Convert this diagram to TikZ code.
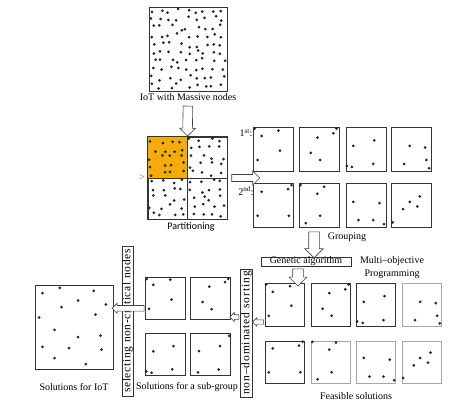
\documentclass[tikz,border=0pt]{standalone}
\usepackage{fontspec}
\setmainfont{Liberation Serif}
\newfontfamily\calfont{Carlito}
\newfontfamily\sortfont[LetterSpace=8]{Liberation Serif}
\newfontfamily\selfont[LetterSpace=6]{Liberation Serif}
\usepackage{tikz}
\usetikzlibrary{shapes.arrows}

\definecolor{partorange}{RGB}{245,172,10}

\begin{document}
\begin{tikzpicture}[x=1pt, y=-1pt,
   box/.style={draw=black!80, line width=0.8pt, inner sep=0pt},
   lightbox/.style={draw=black!35, line width=0.8pt, inner sep=0pt},
   dot/.style={fill=black!85},
   hollow/.style={single arrow, draw=black!75, fill=white, line width=0.6pt,
      inner xsep=0pt, single arrow head extend=#1, sloped, allow upside down},
   hollow/.default=3pt,
   lbl/.style={inner sep=0pt, font=\fontsize{10}{13}\selectfont}]
  \useasboundingbox (0,0) rectangle (474,405);

  % whole network
  \node (iot) at (188,49) [box, minimum width=78, minimum height=84] {};
  \node (iotlbl) at (188,97) [lbl] {IoT with Massive nodes};
  \pgfmathsetseed{11}
  \foreach \i in {0,...,8}
     \foreach \j in {0,...,9}
        \fill[dot] ([shift={({4.3+8.7*\i+6*(rnd-0.5)},{4.2+8.4*\j+6*(rnd-0.5)})}]iot.north west) circle (1.5);

  % partitioning
  \node (part) at (187.5,178) [box, minimum width=79, minimum height=82] {};
  \fill[partorange] (part.north west) rectangle (part.center);
  \draw[box] (part.north west) rectangle (part.south east);
  \draw[box] (part.north) -- (part.south) (part.west) -- (part.east);
  \foreach \qx/\qy in {0/0, 39.5/0, 0/41, 39.5/41}
     \foreach \i in {0,...,3}
        \foreach \j in {0,...,4}
           \fill[dot] ([shift={({\qx+5+9.8*\i+7*(rnd-0.5)},{\qy+4.5+8*\j+5.5*(rnd-0.5)})}]part.north west) circle (1.5);
  \node (cursor) at (142,178) [lbl, text=black!60] {>};
  \node (partlbl) at (191,227) [lbl, font=\calfont\fontsize{10}{12}\selectfont] {Partitioning};

  % grouping
  \node (g11) at (273,149) [box, minimum width=40, minimum height=44] {};
  \node (g12) at (319.5,149) [box, minimum width=40, minimum height=44] {};
  \node (g13) at (366,149) [box, minimum width=40, minimum height=44] {};
  \node (g14) at (411.5,149) [box, minimum width=40, minimum height=44] {};
  \node (g21) at (273,205.5) [box, minimum width=40, minimum height=44] {};
  \node (g22) at (319.5,205.5) [box, minimum width=40, minimum height=44] {};
  \node (g23) at (366,205.5) [box, minimum width=40, minimum height=44] {};
  \node (g24) at (411.5,205.5) [box, minimum width=40, minimum height=44] {};
  \node (first) at (246,133) [lbl] {1\textsuperscript{st}:};
  \node (second) at (246,191) [lbl] {2\textsuperscript{nd}:};
  \node (grplbl) at (347,237) [lbl] {Grouping};

  % genetic algorithm
  \node (ga) at (306,261.5) [box, minimum width=90, minimum height=9] {\fontsize{10}{10}\selectfont Genetic algorithm};
  \node (mop) at (392,267.5) [lbl, align=center] {Multi–objective\\Programming};

  % feasible solutions
  \node (f11) at (285,305) [box, minimum width=39, minimum height=43] {};
  \node (f12) at (330.5,305) [box, minimum width=39, minimum height=43] {};
  \node (f13) at (376,305) [box, minimum width=39, minimum height=43] {};
  \node (f14) at (422,305) [lightbox, minimum width=39, minimum height=43] {};
  \node (f21) at (285,362) [box, minimum width=39, minimum height=42] {};
  \node (f22) at (330.5,362) [lightbox, minimum width=39, minimum height=42] {};
  \node (f23) at (376,362) [lightbox, minimum width=39, minimum height=42] {};
  \node (f24) at (422,362) [lightbox, minimum width=39, minimum height=42] {};
  \node (feaslbl) at (356,396) [lbl] {Feasible solutions};

  % sorting and sub-group
  \node (nd) at (246.5,333) [box, rotate=90, minimum width=128, minimum height=12.5]
     {\sortfont\fontsize{11.5}{12}\selectfont non–dominated sorting};
  \node (s11) at (165.7,298.3) [box, minimum width=40, minimum height=42] {};
  \node (s12) at (210.7,298.3) [box, minimum width=40, minimum height=42] {};
  \node (s21) at (165.7,354.5) [box, minimum width=40, minimum height=42] {};
  \node (s22) at (210.7,354.5) [box, minimum width=40, minimum height=42] {};
  \node (sublbl) at (187,387) [lbl] {Solutions for a sub-group};

  % solutions for IoT
  \node (sel) at (127.5,321) [box, rotate=90, minimum width=150, minimum height=11]
     {\selfont\fontsize{11.5}{12}\selectfont selecting non-critical nodes};
  \node (sol) at (74.2,327.2) [box, minimum width=78, minimum height=84] {};
  \node (sollbl) at (74,387) [lbl] {Solutions for IoT};

  % nodes inside the small boxes
  \foreach \b/\pts in {
     g11/{(2,2),(9,9.3),(26,4),(27.3,24),(5,33.3)},
     g12/{(34.3,6.7),(37.3,2),(18.3,11),(11.7,26.3),(21,33.3)},
     g13/{(28.7,13.7),(7.7,19.3),(27.7,37.3),(1.3,39.3),(6.3,40.3)},
     g14/{(18.7,19.3),(34,21),(35.3,33.3),(13,37.3),(38,41.7)},
     g21/{(9,8.7),(35.3,6),(39,2),(5,32.7),(36.3,32.7)},
     g22/{(1.3,2),(25,3.7),(18.3,10.7),(21,32.7),(6.7,40)},
     g23/{(7.7,18.7),(34,20),(13,37),(27.7,37),(38.3,41)},
     g24/{(28.7,13.3),(18.7,18.7),(26.3,23.3),(12,26),(1.7,39.3)},
     f11/{(1,1.3),(7.7,8.7),(25,3),(26.3,22.7),(3.7,32.7)},
     f12/{(18.7,10),(34.7,6.3),(38,1.3),(12,25.7),(21,32.7)},
     f13/{(28.3,13),(7.7,18.7),(27.3,37),(1,38.3),(6.7,39.7)},
     f14/{(18,18.7),(33.7,20),(35,32.7),(13,37),(37.7,40.3)},
     f21/{(7.7,7.7),(34,5),(37.7,1),(3.7,31.7),(35.3,31.7)},
     f22/{(1.7,1.3),(25.3,2),(18.7,9),(21,31.7),(7,38.7)},
     f23/{(7.7,17.3),(33.7,19),(13.3,36),(27.3,36),(38,39.7)},
     f24/{(28.3,12),(18,17.3),(26,22),(11.7,24.7),(1,37.3)},
     s11/{(1.3,2),(8,8),(25,2.7),(26.3,22.7),(3.7,32)},
     s12/{(19,9.7),(34.7,5.3),(38,2),(12.3,25),(21.3,32.3)},
     s21/{(28.3,13),(8,18.3),(27,36.3),(1,38.3),(6.3,39.7)},
     s22/{(39,2.7),(29.7,13),(8.7,18),(28.3,36.3),(7.7,39.3)},
     sol/{(7.7,8.3),(25,3),(59,6),(43.3,15.7),(26.7,22.3),(71,19.7),(60.7,29.7),(4.3,32.7),
          (19.7,45),(43.3,52.3),(65.7,50.7),(7.7,62),(34.3,63.3),(66.7,64.7),(19.7,73.3),(51,79.3)}}
     {\foreach \p in \pts \fill[dot] ([shift={\p}]\b.north west) circle (1.5);}

  % hollow arrows
  \path (iotlbl.south) -- (part.north)
     node[midway, hollow=3pt, inner ysep=4.5pt, minimum height=30] (a1) {};
  \path ([xshift=4pt]part.east) -- ([xshift=4pt]part.east -| g11.west)
     node[midway, hollow=3.5pt, inner ysep=3.2pt, minimum height=28] (a2) {};
  \path ([xshift=-5.5pt]g22.south) -- ([xshift=-5.5pt]g22.south |- ga.north)
     node[midway, hollow=4pt, inner ysep=5pt, minimum height=26] (a3) {};
  \path ([xshift=-8pt]ga.south) -- ([xshift=-8pt]ga.south |- f11.north)
     node[midway, hollow=3.5pt, inner ysep=5pt, minimum height=17] (a4) {};
  \path ([yshift=-17pt]f11.west) -- ([yshift=-17pt]f11.west -| nd.south)
     node[midway, hollow=2.2pt, inner ysep=1.8pt, minimum height=11] (a5) {};
  \path ([yshift=16pt]nd.north) -- ([yshift=16pt]nd.north -| s12.east)
     node[midway, hollow=2.2pt, inner ysep=2pt, minimum height=9] (a6) {};
  \path ([yshift=-10pt]s11.west) -- ([yshift=-10pt]s11.west -| sol.east)
     node[midway, hollow=2.2pt, inner ysep=2.5pt, minimum height=32] (a7) {};
\end{tikzpicture}
\end{document}
